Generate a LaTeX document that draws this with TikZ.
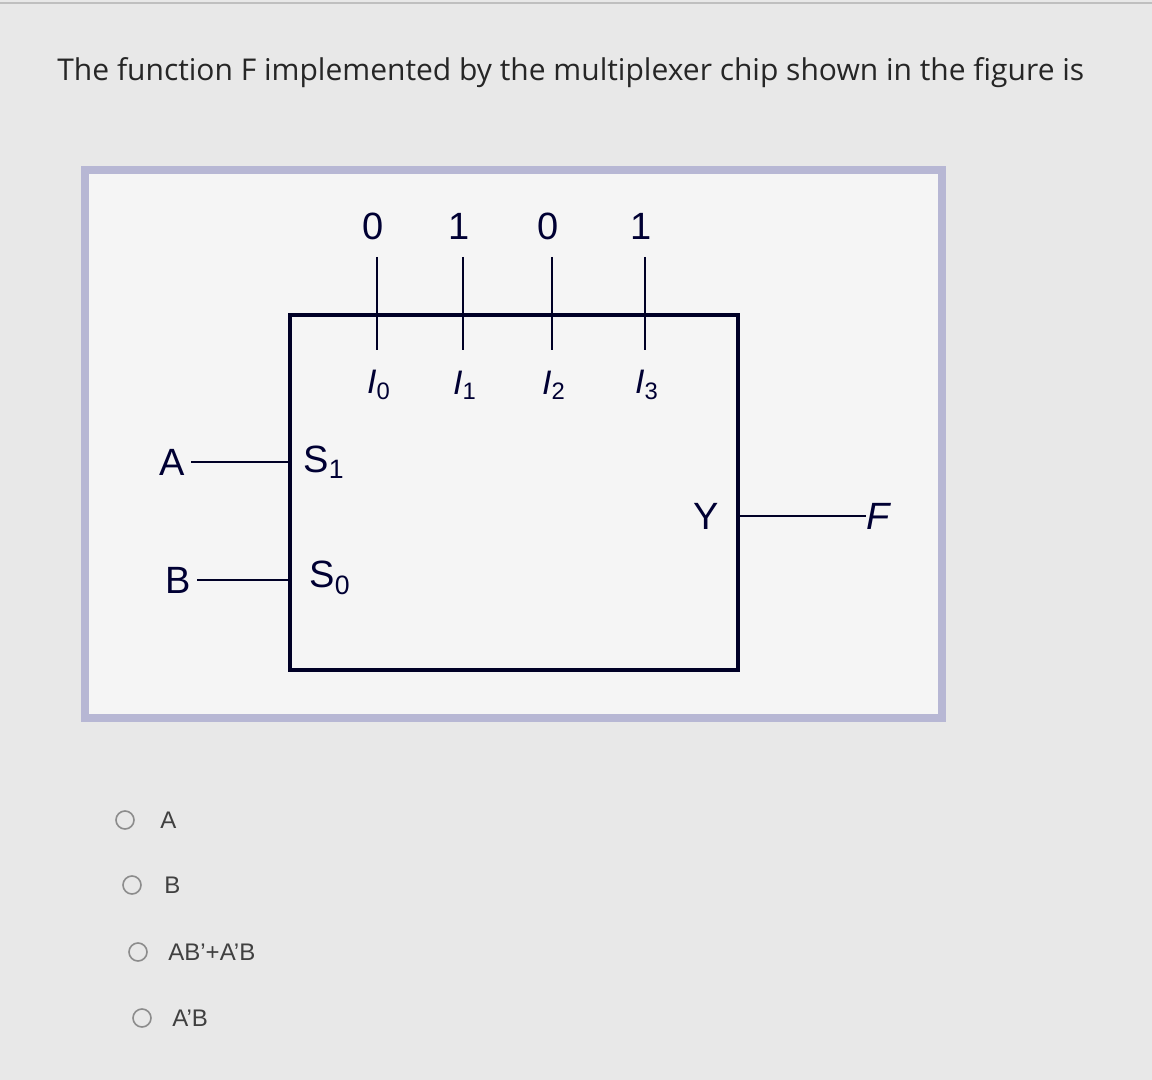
\documentclass[tikz,border=0pt]{standalone}
\usepackage{fontspec}
\setmainfont{Liberation Sans}
\newfontfamily\titlefont{Open Sans}
\begin{document}
\begin{tikzpicture}[x=0.5pt,y=-0.5pt,
  wire/.style={line width=1.4pt,draw=black!85!blue},
  lbl/.style={inner sep=0pt,font=\fontsize{19}{20}\selectfont,text=black!80!blue},
  opt/.style={inner sep=0pt,anchor=west,font=\fontsize{12}{13}\selectfont,text=black!75},
  radio/.style={circle,draw=black!45,line width=0.8pt,minimum size=9pt,inner sep=0pt}]
\fill[gray!18] (0,0) rectangle (1152,1080);
\useasboundingbox (0,0) rectangle (1152,1080);
\draw[gray!50,line width=1pt] (0,3) -- (1152,3);
\node[inner sep=0pt,anchor=west,font=\titlefont\fontsize{15}{16}\selectfont,text=black!85] (title) at (57,73) {The function F implemented by the multiplexer chip shown in the figure is};
% panel
\draw[draw=blue!25!gray!45,line width=4pt,fill=gray!8] (85,170) rectangle (942,718);
% mux box
\draw[wire,line width=1.6pt] (290,315) rectangle (738,670);
\foreach \x/\v/\i in {377/0/0,463/1/1,552/0/2,645/1/3}{
  \node[lbl] (n\i) at (\x-4,226) {\v};
  \coordinate (t\i) at (\x,257);
  \coordinate (b\i) at (\x,350);
  \draw[wire] (t\i) -- (b\i);
  \node[lbl,font=\fontsize{17}{18}\selectfont\itshape] (I\i) at (\x+2,385) {I\textsubscript{\upshape\i}};
}
\node[lbl] (A) at (172,462) {A};
\node[lbl] (S1) at (324,462) {S\textsubscript{1}};
\draw[wire] (A.east)+(6,0) coordinate (a0) -- (290,462) coordinate (a1);
\node[lbl] (B) at (178,580) {B};
\node[lbl] (S0) at (330,578) {S\textsubscript{0}};
\draw[wire] (B.east)+(6,0) coordinate (b0) -- (290,580);
\node[lbl] (Y) at (706,516) {Y};
\node[lbl,font=\fontsize{19}{20}\selectfont\itshape] (F) at (878,516) {F};
\draw[wire] (738,516) -- (F.west);
% options
\node[radio] (r1) at (125,820) {}; \node[opt] (o1) at (160,820) {A};
\node[radio] (r2) at (132,885) {}; \node[opt] (o2) at (164,885) {B};
\node[radio] (r3) at (138,952) {}; \node[opt] (o3) at (168,952) {AB'+A'B};
\node[radio] (r4) at (142,1018) {}; \node[opt] (o4) at (172,1018) {A'B};
\end{tikzpicture}
\end{document}
